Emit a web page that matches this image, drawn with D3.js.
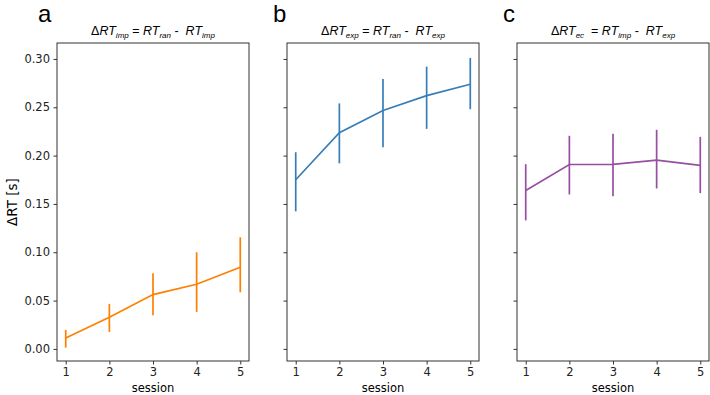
<!DOCTYPE html>
<html>
<head>
<meta charset="utf-8">
<script src="https://cdn.jsdelivr.net/npm/d3@7.9.0/dist/d3.min.js"></script>
<style>
  body { margin: 0; background: #fff; }
  svg { display: block; font-family: "DejaVu Sans", sans-serif; }
  .letter { font-family: "Liberation Sans", Arial, sans-serif; font-size: 24px; }
  .title { font-family: "Liberation Sans", Arial, sans-serif; font-size: 12.5px; white-space: pre; }
</style>
</head>
<body>
<svg id="chart" width="710" height="395"></svg>
<script>
const sessions = [1, 2, 3, 4, 5];

// mean and error bar ends
const impMean = [0.0114, 0.0328, 0.0562, 0.0669, 0.0845];
const impLow  = [0.0013, 0.0176, 0.0348, 0.0383, 0.0586];
const impHigh = [0.0197, 0.0466, 0.0783, 0.1000, 0.1155];

const expMean = [0.1750, 0.2236, 0.2466, 0.2621, 0.2738];
const expLow  = [0.1423, 0.1920, 0.2087, 0.2277, 0.2480];
const expHigh = [0.2035, 0.2540, 0.2793, 0.2920, 0.3010];

const ecMean = [0.1640, 0.1908, 0.1910, 0.1953, 0.1898];
const ecLow  = [0.1330, 0.1598, 0.1580, 0.1660, 0.1612];
const ecHigh = [0.1911, 0.2205, 0.2225, 0.2267, 0.2194];

const yTicks = [0, 0.05, 0.10, 0.15, 0.20, 0.25, 0.30];

// title pieces: [text, style] where style is 'up' (upright), 'it' (italic), 'sub' (italic subscript)
const titleA = [['Δ', 'up'], ['RT', 'it'], ['imp', 'sub'], [' = ', 'up'], ['RT', 'it'], ['ran', 'sub'], [' -  ', 'up'], ['RT', 'it'], ['imp', 'sub']];
const titleB = [['Δ', 'up'], ['RT', 'it'], ['exp', 'sub'], [' = ', 'up'], ['RT', 'it'], ['ran', 'sub'], [' -  ', 'up'], ['RT', 'it'], ['exp', 'sub']];
const titleC = [['Δ', 'up'], ['RT', 'it'], ['ec', 'sub'], ['  = ', 'up'], ['RT', 'it'], ['imp', 'sub'], [' -  ', 'up'], ['RT', 'it'], ['exp', 'sub']];

const panels = [
  { letter: 'a', letterX: 38, left: 57, color: '#ff7f00', mean: impMean, low: impLow, high: impHigh, title: titleA, labels: true },
  { letter: 'b', letterX: 273, left: 287, color: '#377eb8', mean: expMean, low: expLow, high: expHigh, title: titleB, labels: false },
  { letter: 'c', letterX: 503, left: 517, color: '#984ea3', mean: ecMean, low: ecLow, high: ecHigh, title: titleC, labels: false },
];

const panelW = 192;
const plotTop = 43, plotBottom = 361;

const svg = d3.select('#chart');

const y = d3.scaleLinear().domain([-0.0125, 0.3165]).range([plotBottom, plotTop]);

function styleAxis(a) {
  a.attr('font-size', null).attr('font-family', null);
  a.select('.domain').remove();
  a.selectAll('.tick line').attr('stroke', '#333');
  a.selectAll('.tick text')
    .attr('font-family', '"DejaVu Sans", sans-serif')
    .attr('font-size', 11.5)
    .attr('fill', '#222');
}

panels.forEach((p) => {
  const x = d3.scaleLinear().domain([0.8, 5.2]).range([p.left, p.left + panelW]);
  const g = svg.append('g');

  const pts = sessions.map((s, i) => ({ s, m: p.mean[i], lo: p.low[i], hi: p.high[i] }));

  // error bars
  g.selectAll('line.err')
    .data(pts)
    .join('line')
    .attr('class', 'err')
    .attr('x1', (d) => x(d.s)).attr('x2', (d) => x(d.s))
    .attr('y1', (d) => y(d.lo)).attr('y2', (d) => y(d.hi))
    .attr('stroke', p.color)
    .attr('stroke-width', 1.7);

  g.append('path')
    .datum(pts)
    .attr('fill', 'none')
    .attr('stroke', p.color)
    .attr('stroke-width', 1.7)
    .attr('d', d3.line().x((d) => x(d.s)).y((d) => y(d.m)));

  // axes
  const xAxis = d3.axisBottom(x).tickValues(sessions).tickFormat(d3.format('d')).tickSize(3.5).tickPadding(3.5);
  g.append('g')
    .attr('transform', `translate(0,${plotBottom})`)
    .call(xAxis)
    .call(styleAxis);

  const yAxis = d3.axisLeft(y).tickValues(yTicks).tickSize(3.5).tickPadding(3.5)
    .tickFormat(p.labels ? d3.format('.2f') : () => '');
  g.append('g')
    .attr('transform', `translate(${p.left},0)`)
    .call(yAxis)
    .call(styleAxis);

  g.append('rect')
    .attr('x', p.left).attr('y', plotTop)
    .attr('width', panelW).attr('height', plotBottom - plotTop)
    .attr('fill', 'none')
    .attr('stroke', '#333')
    .attr('stroke-width', 1);

  g.append('text')
    .attr('x', p.left + panelW / 2).attr('y', 392)
    .attr('text-anchor', 'middle')
    .attr('font-family', '"DejaVu Sans", sans-serif')
    .attr('font-size', 11.5)
    .text('session');

  const t = g.append('text')
    .attr('class', 'title')
    .attr('x', p.left + panelW / 2).attr('y', 35)
    .attr('text-anchor', 'middle');
  let lifted = false;
  p.title.forEach(([str, kind]) => {
    const span = t.append('tspan').text(str);
    if (kind === 'sub') {
      span.attr('font-size', 8).attr('font-style', 'italic');
      if (!lifted) { span.attr('dy', 3); lifted = true; }
    } else {
      if (lifted) { span.attr('dy', -3); lifted = false; }
      if (kind === 'it') span.attr('font-style', 'italic');
    }
  });

  g.append('text')
    .attr('class', 'letter')
    .attr('x', p.letterX).attr('y', 22)
    .text(p.letter);
});

svg.append('text')
  .attr('transform', `translate(17,${(plotTop + plotBottom) / 2}) rotate(-90)`)
  .attr('text-anchor', 'middle')
  .attr('font-size', 13.5)
  .text('ΔRT [s]');
</script>
</body>
</html>
